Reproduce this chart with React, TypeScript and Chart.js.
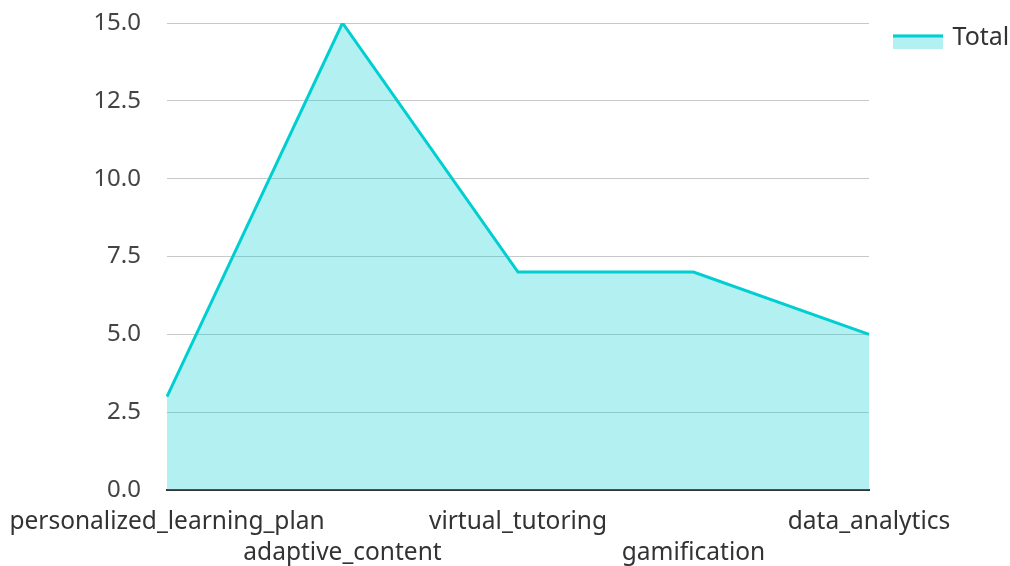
import React, { useEffect, useRef } from "react";
import { Chart, registerables } from "chart.js";

Chart.register(...registerables);

const categories = [
  "personalized_learning_plan",
  "adaptive_content",
  "virtual_tutoring",
  "gamification",
  "data_analytics",
];
const totals = [3, 15, 7, 7, 5];
const seriesName = "Total";

const LINE = "#00CED1";
const FILL = "rgba(0, 206, 209, 0.3)";
const FONT = "'Noto Sans', sans-serif";
const LEGEND_SHIFT = 22;
const LEGEND_PAD = 2;

export default function App() {
  const ref = useRef<HTMLCanvasElement | null>(null);

  useEffect(() => {
    document.body.style.margin = "0";
    const canvas = ref.current;
    if (!canvas) return;

    const legendBox = {
      id: "legendBox",
      afterLayout(chart: any) {
        const lg = chart.legend;
        if (!lg) return;
        lg.left += LEGEND_SHIFT;
        lg.right += LEGEND_SHIFT;
      },
      afterDraw(chart: any) {
        const lg = chart.legend;
        if (!lg || !lg.legendHitBoxes || !lg.legendHitBoxes.length) return;
        const hb = lg.legendHitBoxes[0];
        const ctx = chart.ctx;
        const x = lg.left + LEGEND_PAD;
        const y = hb.top + hb.height / 2 - 3;
        ctx.save();
        ctx.fillStyle = FILL;
        ctx.fillRect(x, y, 50, 14.5);
        ctx.fillStyle = LINE;
        ctx.fillRect(x, y, 50, 3);
        ctx.restore();
      },
    };

    const chart = new Chart(canvas, {
      type: "line",
      data: {
        labels: categories.map((c, i) => (i % 2 === 1 ? ["", c] : [c])),
        datasets: [
          {
            label: seriesName,
            data: totals,
            borderColor: LINE,
            backgroundColor: FILL,
            borderWidth: 3,
            fill: "origin",
            pointRadius: 0,
            pointHoverRadius: 0,
            tension: 0,
          },
        ],
      },
      options: {
        animation: false,
        responsive: true,
        maintainAspectRatio: false,
        layout: { padding: { top: 23, right: 0, left: 10, bottom: 0 } },
        plugins: {
          tooltip: { enabled: false },
          legend: {
            position: "right",
            align: "start",
            labels: {
              font: { family: FONT, size: 25 },
              color: "#333",
              boxWidth: 47,
              boxHeight: 14,
              padding: LEGEND_PAD,
              generateLabels: () => [
                {
                  text: seriesName,
                  fillStyle: "rgba(0,0,0,0)",
                  strokeStyle: "rgba(0,0,0,0)",
                  lineWidth: 0,
                  hidden: false,
                  datasetIndex: 0,
                  fontColor: "#333",
                } as any,
              ],
            },
          },
        },
        scales: {
          x: {
            offset: false,
            grid: { display: false, drawTicks: false },
            border: { display: true, color: "#333", width: 2 },
            afterFit: (scale: any) => {
              scale.paddingLeft = 167;
              scale.paddingRight = 141;
              scale.height = 76;
            },
            ticks: {
              autoSkip: false,
              maxRotation: 0,
              minRotation: 0,
              padding: 16,
              color: "#333",
              font: { family: FONT, size: 24.5, lineHeight: 1.27 },
            },
          },
          y: {
            min: 0,
            max: 15,
            grid: { color: "#c8c8c8", lineWidth: 1, drawTicks: false },
            border: { display: false },
            afterFit: (scale: any) => {
              scale.paddingTop = 0;
              scale.paddingBottom = 0;
            },
            ticks: {
              stepSize: 2.5,
              padding: 26,
              color: "#444",
              font: { family: FONT, size: 24 },
              callback: (v: any) => Number(v).toFixed(1),
            },
          },
        },
      },
      plugins: [legendBox],
    });

    return () => chart.destroy();
  }, []);

  return (
    <div style={{ width: 1010, height: 566, position: "relative" }}>
      <canvas ref={ref} />
    </div>
  );
}
